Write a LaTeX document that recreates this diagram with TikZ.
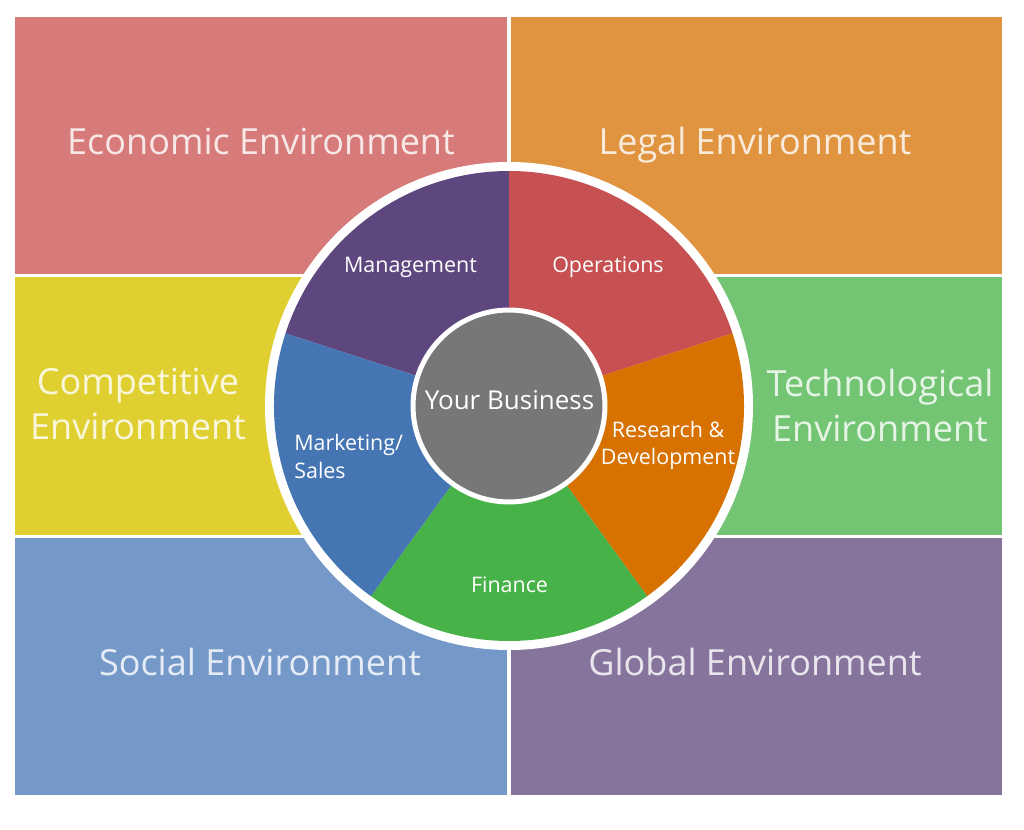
\documentclass[tikz,border=0pt]{standalone}
\usepackage{fontspec}
\setmainfont{Open Sans}
\definecolor{econred}{HTML}{D77A7A}
\definecolor{legalorange}{HTML}{E0943F}
\definecolor{compyellow}{HTML}{E0CF31}
\definecolor{techgreen}{HTML}{73C574}
\definecolor{socialblue}{HTML}{7498C8}
\definecolor{globalpurple}{HTML}{86749C}
\definecolor{mgmtpurple}{HTML}{5E477E}
\definecolor{opsred}{HTML}{C75052}
\definecolor{rdorange}{HTML}{D77100}
\definecolor{fingreen}{HTML}{46B247}
\definecolor{mktblue}{HTML}{4575B3}
\definecolor{coregray}{HTML}{777777}
\tikzstyle{envbox} = [
    rectangle,
    minimum width=9.83cm,
    minimum height=5.15cm,
    inner sep=0pt,
    outer sep=0pt,
    draw=none
]
\tikzstyle{envlabel} = [
    anchor=base,
    align=center,
    inner sep=0pt,
    text=white,
    text opacity=0.82,
    font=\fontsize{20.5}{26}\selectfont
]
\tikzstyle{partlabel} = [
    anchor=base,
    align=center,
    inner sep=0pt,
    text=white,
    font=\fontsize{12.2}{15.4}\selectfont
]

\begin{document}
\begin{tikzpicture}[x=0.02cm, y=0.02cm]
\useasboundingbox (0,0) rectangle (1024,829);

% Environment boxes
\node (econbox) [envbox, fill=econred] at (261,683.5) {};
\node (legalbox) [envbox, fill=legalorange] at (756.5,683.5) {};
\node (compbox) [envbox, fill=compyellow] at (261,423) {};
\node (techbox) [envbox, fill=techgreen] at (756.5,423) {};
\node (socialbox) [envbox, fill=socialblue] at (261,162.5) {};
\node (globalbox) [envbox, fill=globalpurple] at (756.5,162.5) {};

% Environment labels
\node (econ) [envlabel] at (261,674) {Economic Environment};
\node (legal) [envlabel] at (755,674) {Legal Environment};
\node (comp) [envlabel] at (138,389) {Competitive\\ Environment};
\node (tech) [envlabel] at (880,387) {Technological\\ Environment};
\node (social) [envlabel] at (260,154) {Social Environment};
\node (global) [envlabel] at (755,154) {Global Environment};

% Wheel of business functions
\coordinate (hub) at (509,423);
\fill [white] (hub) circle [radius=244];
\foreach \from/\to/\col in {90/162/mgmtpurple, 18/90/opsred, -54/18/rdorange, -126/-54/fingreen, -198/-126/mktblue}
    \fill [\col] (hub) -- +(\from:235) arc [start angle=\from, end angle=\to, radius=235] -- cycle;
\node (core) [circle, fill=coregray, draw=white, line width=0.1cm, minimum size=3.84cm, inner sep=0pt] at (hub) {};

% Function labels
\node (mgmt) [partlabel] at (410.5,556) {Management};
\node (ops) [partlabel] at (608,556) {Operations};
\node (rd) [partlabel] at (668,364) {Research \&\\ Development};
\node (fin) [partlabel] at (509.5,237) {Finance};
\node (mkt) [partlabel, align=left, anchor=base west] at (294,351) {Marketing/\\ Sales};
\node (corelabel) [partlabel, font=\fontsize{14.8}{19}\selectfont] at (509.5,419) {Your Business};

\end{tikzpicture}
\end{document}
